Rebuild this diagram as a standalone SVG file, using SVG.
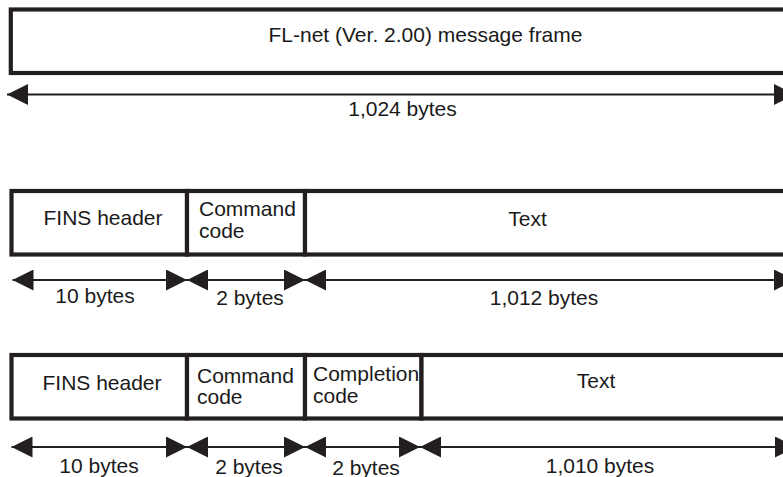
<svg xmlns="http://www.w3.org/2000/svg" width="783" height="477" viewBox="0 0 783 477">
<style>
.cell{fill:#fff;stroke:#231f20;stroke-width:4.2}
.t{font-family:"Liberation Sans",Arial,sans-serif;font-size:21px;fill:#1a1a1a}
.m{text-anchor:middle}
.arr{stroke:#231f20;stroke-width:2;fill:none;marker-start:url(#ah);marker-end:url(#ah)}
</style>
<defs>
<marker id="ah" markerUnits="userSpaceOnUse" markerWidth="21" markerHeight="21" refX="20" refY="10" orient="auto-start-reverse" viewBox="0 0 20 20">
<path d="M0,0 L20,10 L0,20 Z" fill="#231f20"/>
</marker>
</defs>
<g id="frame">
<rect class="cell" x="10.8" y="9.5" width="790" height="63.5"/>
<text class="t m" x="425.5" y="42">FL-net (Ver. 2.00) message frame</text>
</g>
<g id="r2-fins">
<rect class="cell" x="11.5" y="191" width="175.5" height="63.5"/>
<text class="t m" x="103" y="225">FINS header</text>
</g>
<g id="r2-cmd">
<rect class="cell" x="187" y="191" width="118" height="63.5"/>
<text class="t" x="199" y="216">Command</text>
<text class="t" x="199" y="237.5">code</text>
</g>
<g id="r2-text">
<rect class="cell" x="305" y="191" width="500" height="63.5"/>
<text class="t m" x="527.5" y="226">Text</text>
</g>
<g id="r3-fins">
<rect class="cell" x="11.5" y="355" width="175.5" height="63.5"/>
<text class="t m" x="102" y="390">FINS header</text>
</g>
<g id="r3-cmd">
<rect class="cell" x="187" y="355" width="118" height="63.5"/>
<text class="t" x="197" y="382.5">Command</text>
<text class="t" x="197" y="404">code</text>
</g>
<g id="r3-comp">
<rect class="cell" x="305" y="355" width="116.5" height="63.5"/>
<text class="t" x="313" y="381">Completion</text>
<text class="t" x="313" y="402.5">code</text>
</g>
<g id="r3-text">
<rect class="cell" x="421.5" y="355" width="400" height="63.5"/>
<text class="t m" x="596" y="388">Text</text>
</g>
<g id="connectors">
<line class="arr" x1="7" y1="94.5" x2="795" y2="94.5"/>
<line class="arr" x1="12.5" y1="280" x2="187" y2="280"/>
<line class="arr" x1="187" y1="280" x2="305" y2="280"/>
<line class="arr" x1="305" y1="280" x2="795" y2="280"/>
<line class="arr" x1="11.5" y1="447" x2="187" y2="447"/>
<line class="arr" x1="187" y1="447" x2="305" y2="447"/>
<line class="arr" x1="305" y1="447" x2="420" y2="447"/>
<line class="arr" x1="420" y1="447" x2="796" y2="447"/>
</g>
<g id="labels">
<text class="t m" x="402.5" y="116">1,024 bytes</text>
<text class="t m" x="95" y="303">10 bytes</text>
<text class="t m" x="250" y="304.5">2 bytes</text>
<text class="t m" x="544" y="305">1,012 bytes</text>
<text class="t m" x="99" y="472.5">10 bytes</text>
<text class="t m" x="249" y="473.5">2 bytes</text>
<text class="t m" x="366" y="474.5">2 bytes</text>
<text class="t m" x="600" y="472.5">1,010 bytes</text>
</g>
</svg>
